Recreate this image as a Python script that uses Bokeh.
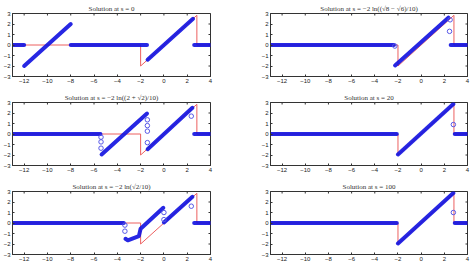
import math
from bokeh.plotting import figure
from bokeh.layouts import gridplot
from bokeh.models import FixedTicker, Range1d
from bokeh.embed import file_html
from bokeh.resources import INLINE

# ---- data ----
X_TICKS = [-12, -10, -8, -6, -4, -2, 0, 2, 4]
Y_TICKS = [-3, -2, -1, 0, 1, 2, 3]
X_MIN, X_MAX = -13, 4
Y_MIN, Y_MAX = -3, 3

# initial condition (red thin line), same in every panel
U0_X = [-13, -2, -2, 2.83, 2.83, 4]
U0_Y = [0, 0, -2, 2.83, 0, 0]

TITLES = [
    "Solution at s = 0",
    "Solution at s = \u22122 ln((\u221a8 \u2212 \u221a6)/10)",
    "Solution at s = \u22122 ln((2 + \u221a2)/10)",
    "Solution at s = 20",
    "Solution at s = \u22122 ln(\u221a2/10)",
    "Solution at s = 100",
]

# dense blue marker bands (polylines) per panel
P1_BAND_X = [[-13, -12], [-12, -8], [-8, -1.45], [-1.4, 2.5], [2.6, 4]]
P1_BAND_Y = [[0, 0], [-2, 2], [0, 0], [-1.4, 2.5], [0, 0]]
P1_CIRC_X = []
P1_CIRC_Y = []

P2_BAND_X = [[-13, -2.35], [-2.25, 2.35], [2.55, 4]]
P2_BAND_Y = [[0, 0], [-1.95, 2.6], [0, 0]]
P2_CIRC_X = [-2.27, 2.5, 2.45]
P2_CIRC_Y = [-0.1, 2.4, 1.3]

P3_BAND_X = [[-13, -5.45], [-5.35, -1.45], [-1.4, 2.45], [2.6, 4]]
P3_BAND_Y = [[0, 0], [-1.95, 1.95], [-1.45, 2.5], [0, 0]]
P3_CIRC_X = [-5.4, -5.4, -5.4, -1.42, -1.42, -1.42, -1.42, 2.35]
P3_CIRC_Y = [-0.3, -0.75, -1.35, 1.35, 0.8, 0.27, -0.82, 1.7]

P4_BAND_X = [[-13, -2.1], [-2.0, 2.78], [2.9, 4]]
P4_BAND_Y = [[0, 0], [-1.95, 2.85], [0, 0]]
P4_CIRC_X = [2.78]
P4_CIRC_Y = [0.9]

P5_BAND_X = [[-13, -3.45], [-3.3, -3.1, -2.15, -2.0, -0.05], [0.0, 2.45], [2.6, 4]]
P5_BAND_Y = [[0, 0], [-1.5, -1.65, -1.25, -0.55, 1.45], [0.05, 2.5], [0, 0]]
P5_CIRC_X = [-3.35, -3.35, 0.0, 0.0, 2.35]
P5_CIRC_Y = [-0.2, -0.78, 1.0, 0.32, 1.6]

P6_BAND_X = [[-13, -2.1], [-2.0, 2.78], [2.9, 4]]
P6_BAND_Y = [[0, 0], [-1.95, 2.85], [0, 0]]
P6_CIRC_X = [2.78]
P6_CIRC_Y = [1.0]

PANELS = [
    (P1_BAND_X, P1_BAND_Y, P1_CIRC_X, P1_CIRC_Y),
    (P2_BAND_X, P2_BAND_Y, P2_CIRC_X, P2_CIRC_Y),
    (P3_BAND_X, P3_BAND_Y, P3_CIRC_X, P3_CIRC_Y),
    (P4_BAND_X, P4_BAND_Y, P4_CIRC_X, P4_CIRC_Y),
    (P5_BAND_X, P5_BAND_Y, P5_CIRC_X, P5_CIRC_Y),
    (P6_BAND_X, P6_BAND_Y, P6_CIRC_X, P6_CIRC_Y),
]

AX_COLOR = "#333333"


def style_axis(ax, ticks):
    ax.ticker = FixedTicker(ticks=ticks)
    ax.major_tick_in = 2
    ax.major_tick_out = 0
    ax.minor_tick_in = 0
    ax.minor_tick_out = 0
    ax.axis_line_color = AX_COLOR
    ax.major_tick_line_color = AX_COLOR
    ax.axis_line_width = 1
    ax.major_label_text_font = "Liberation Sans"
    ax.major_label_text_font_size = "6px"
    ax.major_label_text_color = "#222222"
    ax.major_label_standoff = 2


def make_panel(i):
    left = (i % 2 == 0)
    bx, by, cx, cy = PANELS[i]
    p = figure(
        frame_width=198 if left else 197,
        frame_height=63,
        x_range=Range1d(X_MIN, X_MAX),
        y_range=Range1d(Y_MIN, Y_MAX),
        output_backend="svg",
        toolbar_location=None,
        min_border_left=11 if left else 32,
        min_border_right=28 if left else 8,
        min_border_top=13,
        min_border_bottom=13,
        background_fill_color="white",
        border_fill_color="white",
    )
    p.grid.visible = False
    p.outline_line_color = AX_COLOR
    style_axis(p.xaxis[0], X_TICKS)
    style_axis(p.yaxis[0], Y_TICKS)

    # inward ticks on the top and right edges of the box
    p.scatter(X_TICKS, [Y_MAX] * len(X_TICKS), marker="dash", angle=math.pi / 2,
              size=4, line_color=AX_COLOR, line_width=1)
    p.scatter([X_MAX] * len(Y_TICKS), Y_TICKS, marker="dash",
              size=4, line_color=AX_COLOR, line_width=1)

    p.title.text = TITLES[i]
    p.title.text_font = "Liberation Serif"
    p.title.text_font_size = "7px"
    p.title.text_font_style = "normal"
    p.title.text_color = "#333333"
    p.title.align = "center"
    p.title.standoff = 1

    p.line(U0_X, U0_Y, line_color="#ec6060", line_width=1)
    p.multi_line(bx, by, line_color="#1010e0", line_alpha=0.9, line_width=4,
                 line_cap="round", line_join="round")
    if cx:
        p.scatter(cx, cy, marker="circle", size=4.5, fill_color=None,
                  line_color="#5858e8", line_width=1)
    return p


figs = [make_panel(i) for i in range(6)]
grid = gridplot([[figs[0], figs[1]], [figs[2], figs[3]], [figs[4], figs[5]]],
                toolbar_location=None)

open("out.html", "w").write(file_html(grid, INLINE))
